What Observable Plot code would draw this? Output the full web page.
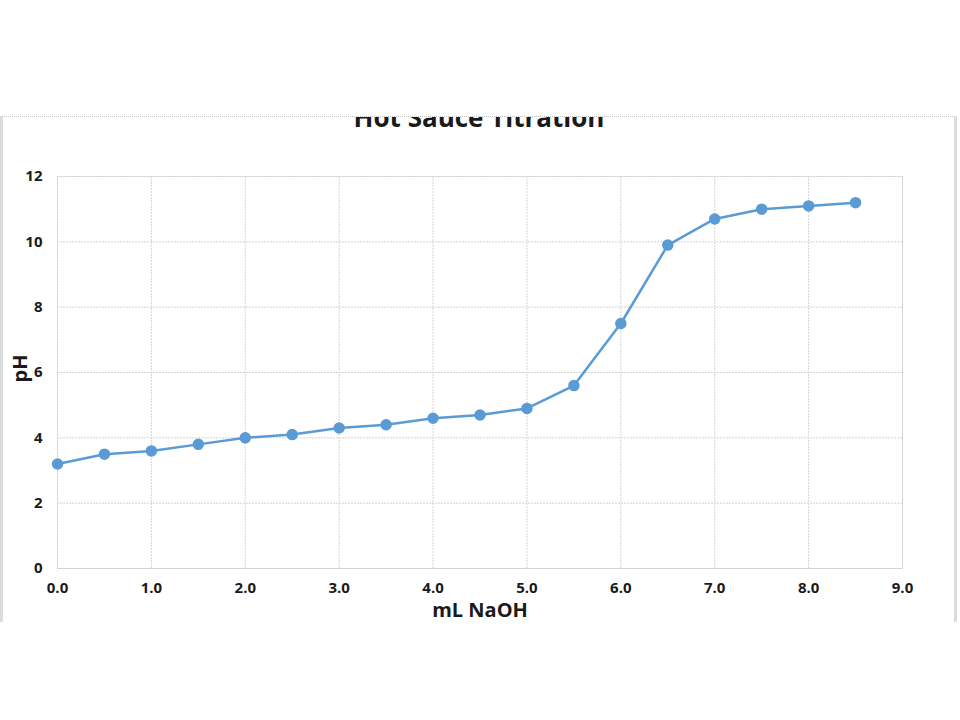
<!DOCTYPE html>
<html>
<head>
<meta charset="utf-8">
<script src="https://cdn.jsdelivr.net/npm/d3@7"></script>
<script src="https://cdn.jsdelivr.net/npm/@observablehq/plot@0.6"></script>
<style>
  html, body { margin: 0; padding: 0; background: #fff; width: 960px; height: 720px; overflow: hidden; }
  #box {
    position: absolute; left: 0; top: 116px; width: 957px; height: 506px;
    box-sizing: border-box;
    border-left: 3px solid #dcdcdc; border-right: 3px solid #dcdcdc;
    border-top: 1px dotted #c4c4c4;
    overflow: hidden;
  }
  #box svg { display: block; }
</style>
</head>
<body>
<div id="box"></div>
<script>
const title = "Hot Sauce Titration";
const xLabel = "mL NaOH";
const yLabel = "pH";
const mlNaOH = [0, 0.5, 1.0, 1.5, 2.0, 2.5, 3.0, 3.5, 4.0, 4.5, 5.0, 5.5, 6.0, 6.5, 7.0, 7.5, 8.0, 8.5];
const pH     = [3.2, 3.5, 3.6, 3.8, 4.0, 4.1, 4.3, 4.4, 4.6, 4.7, 4.9, 5.6, 7.5, 9.9, 10.7, 11.0, 11.1, 11.2];
const xTicks = [0, 1, 2, 3, 4, 5, 6, 7, 8, 9];
const yTicks = [0, 2, 4, 6, 8, 10, 12];

const data = mlNaOH.map((x, i) => ({x, y: pH[i]}));
const blue = "#5b9bd5";
const grid = "#d4d4d4";
const font = "'Open Sans', 'Noto Sans', sans-serif";

const chart = Plot.plot({
  width: 951,
  height: 505,
  marginLeft: 54,
  marginRight: 52,
  marginTop: 59,
  marginBottom: 54,
  style: {fontFamily: font, background: "white", overflow: "hidden"},
  x: {domain: [0, 9], ticks: xTicks},
  y: {domain: [0, 12], ticks: yTicks},
  marks: [
    Plot.gridX(xTicks, {stroke: grid, strokeOpacity: 1, strokeDasharray: "2,1"}),
    Plot.gridY(yTicks, {stroke: grid, strokeOpacity: 1, strokeDasharray: "2,1"}),
    Plot.frame({stroke: grid, strokeDasharray: "2,1"}),
    Plot.axisX(xTicks, {tickSize: 0, tickPadding: 14, tickFormat: d3.format(".1f"), label: null,
      fontSize: 15, fontWeight: "bold", fill: "#1a1a1a"}),
    Plot.axisY(yTicks, {tickSize: 0, tickPadding: 15, tickFormat: d => String(d), label: null,
      fontSize: 15, fontWeight: "bold", fill: "#1a1a1a"}),
    Plot.line(data, {x: "x", y: "y", stroke: blue, strokeWidth: 2.5}),
    Plot.dot(data, {x: "x", y: "y", r: 5, fill: blue, stroke: blue}),
    Plot.text([xLabel], {frameAnchor: "bottom", dy: 48, text: d => d, fontSize: 20, fontWeight: "bold", fill: "#1a1a1a"}),
    Plot.text([yLabel], {frameAnchor: "left", dx: -37, dy: 10, rotate: -90, text: d => d, fontSize: 20, fontWeight: "bold", fill: "#1a1a1a"}),
    Plot.text([title], {frameAnchor: "top", dx: -1, dy: -50, lineAnchor: "bottom", text: d => d, fontSize: 26, fontWeight: "bold", fill: "#1a1a1a"})
  ]
});
document.getElementById("box").appendChild(chart);
</script>
</body>
</html>
